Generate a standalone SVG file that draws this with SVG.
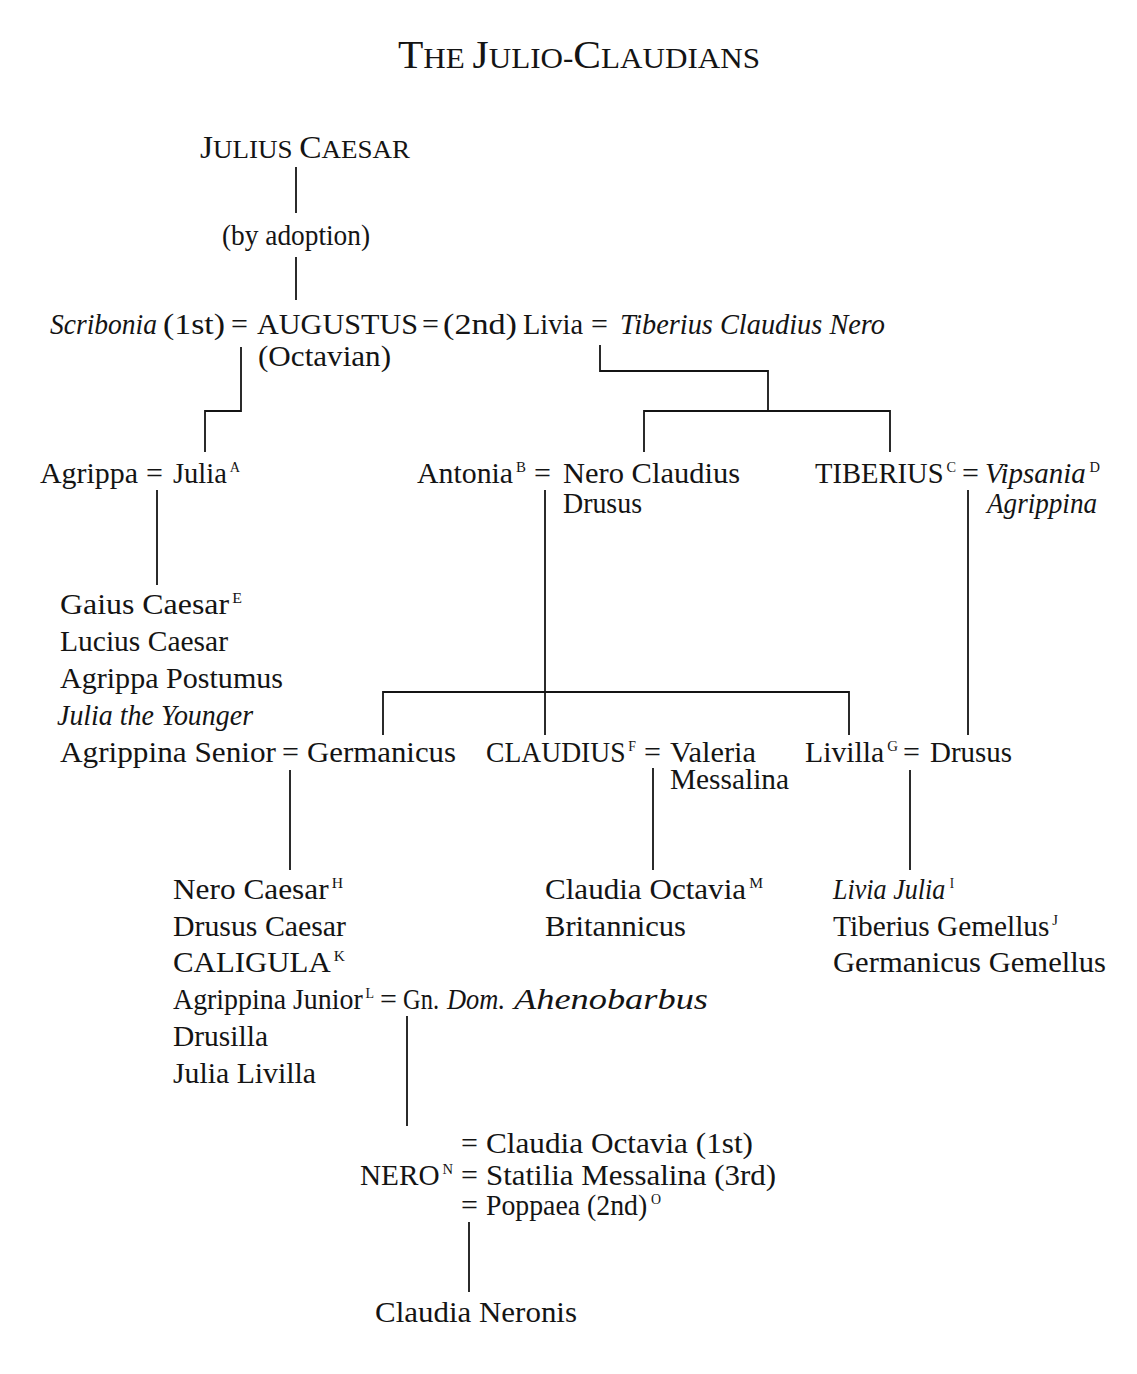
<svg xmlns="http://www.w3.org/2000/svg" width="1137" height="1374" viewBox="0 0 1137 1374">
<style>
text { font-family: "Liberation Serif", "Times New Roman", serif; font-size: 30px; fill: #141414; }
.i { font-style: italic; }
.sup { font-size: 15px; }
.big { font-size: 40px; }
.sc { font-size: 30px; }
.c { stroke: #141414; stroke-width: 1.8; fill: none; }
</style>
<rect width="1137" height="1374" fill="#ffffff"/>
<g id="title">
<text x="398" y="68" textLength="362" lengthAdjust="spacingAndGlyphs"><tspan class="big">T</tspan><tspan class="sc">HE </tspan><tspan class="big">J</tspan><tspan class="sc">ULIO-</tspan><tspan class="big">C</tspan><tspan class="sc">LAUDIANS</tspan></text>
</g>
<g id="connectors">
<path class="c" d="M296,167 V213"/>
<path class="c" d="M296,257 V300"/>
<path class="c" d="M241,347 V411 H205 V452"/>
<path class="c" d="M600,345 V371 H768 V411"/>
<path class="c" d="M644,452 V411 H890 V452"/>
<path class="c" d="M157,490 V585"/>
<path class="c" d="M545,490 V735"/>
<path class="c" d="M383,735 V692 H849 V735"/>
<path class="c" d="M968,490 V735"/>
<path class="c" d="M290,770 V870"/>
<path class="c" d="M653,768 V870"/>
<path class="c" d="M910,770 V870"/>
<path class="c" d="M407,1016 V1126"/>
<path class="c" d="M469,1222 V1292"/>
</g>
<g id="julius-caesar">
<text x="200" y="158" textLength="210" lengthAdjust="spacingAndGlyphs"><tspan font-size="31">J</tspan><tspan font-size="25">ULIUS </tspan><tspan font-size="31">C</tspan><tspan font-size="25">AESAR</tspan></text>
</g>
<g id="adoption">
<text x="222" y="245" textLength="148" lengthAdjust="spacingAndGlyphs">(by adoption)</text>
</g>
<g id="scribonia">
<text class="i" x="50" y="334" font-size="28" textLength="107" lengthAdjust="spacingAndGlyphs">Scribonia</text>
<text x="163" y="334" textLength="62" lengthAdjust="spacingAndGlyphs">(1st)</text>
<text x="231" y="334">=</text>
</g>
<g id="augustus">
<text x="257" y="334" textLength="161" lengthAdjust="spacingAndGlyphs">AUGUSTUS</text>
<text x="258" y="366" textLength="133" lengthAdjust="spacingAndGlyphs">(Octavian)</text>
</g>
<g id="livia">
<text x="422" y="334">=</text>
<text x="443" y="334" textLength="74" lengthAdjust="spacingAndGlyphs">(2nd)</text>
<text x="523" y="334" textLength="60" lengthAdjust="spacingAndGlyphs">Livia</text>
<text x="591" y="334">=</text>
</g>
<g id="tiberius-claudius-nero">
<text class="i" x="620" y="334" textLength="265" lengthAdjust="spacingAndGlyphs">Tiberius Claudius Nero</text>
</g>
<g id="agrippa">
<text x="40" y="483" textLength="98" lengthAdjust="spacingAndGlyphs">Agrippa</text>
<text x="146" y="483">=</text>
</g>
<g id="julia">
<text x="173" y="483" textLength="67" lengthAdjust="spacingAndGlyphs">Julia<tspan class="sup" dx="3" dy="-11">A</tspan></text>
</g>
<g id="antonia">
<text x="417" y="483" textLength="109" lengthAdjust="spacingAndGlyphs">Antonia<tspan class="sup" dx="3" dy="-11">B</tspan></text>
<text x="534" y="483">=</text>
</g>
<g id="nero-claudius-drusus">
<text x="563" y="483" textLength="177" lengthAdjust="spacingAndGlyphs">Nero Claudius</text>
<text x="563" y="513" textLength="79" lengthAdjust="spacingAndGlyphs">Drusus</text>
</g>
<g id="tiberius">
<text x="815" y="483" font-size="28" textLength="141" lengthAdjust="spacingAndGlyphs">TIBERIUS<tspan class="sup" dx="3" dy="-11">C</tspan></text>
<text x="962" y="483">=</text>
</g>
<g id="vipsania-agrippina">
<text class="i" x="985" y="483" textLength="115" lengthAdjust="spacingAndGlyphs">Vipsania<tspan class="sup" font-style="normal" dx="4" dy="-11">D</tspan></text>
<text class="i" x="987" y="513" textLength="110" lengthAdjust="spacingAndGlyphs">Agrippina</text>
</g>
<g id="gaius-caesar">
<text x="60" y="614" textLength="182" lengthAdjust="spacingAndGlyphs">Gaius Caesar<tspan class="sup" dx="3" dy="-11">E</tspan></text>
</g>
<g id="lucius-caesar">
<text x="60" y="651" textLength="168" lengthAdjust="spacingAndGlyphs">Lucius Caesar</text>
</g>
<g id="agrippa-postumus">
<text x="60" y="688" textLength="223" lengthAdjust="spacingAndGlyphs">Agrippa Postumus</text>
</g>
<g id="julia-the-younger">
<text class="i" x="57" y="725" textLength="196" lengthAdjust="spacingAndGlyphs">Julia the Younger</text>
</g>
<g id="agrippina-senior">
<text x="60" y="762" textLength="216" lengthAdjust="spacingAndGlyphs">Agrippina Senior</text>
<text x="282" y="762">=</text>
</g>
<g id="germanicus">
<text x="307" y="762" textLength="149" lengthAdjust="spacingAndGlyphs">Germanicus</text>
</g>
<g id="claudius">
<text x="486" y="762" font-size="27" textLength="150" lengthAdjust="spacingAndGlyphs">CLAUDIUS<tspan class="sup" dx="3" dy="-11">F</tspan></text>
<text x="644" y="762">=</text>
</g>
<g id="valeria-messalina">
<text x="670" y="762" textLength="86" lengthAdjust="spacingAndGlyphs">Valeria</text>
<text x="670" y="789" textLength="119" lengthAdjust="spacingAndGlyphs">Messalina</text>
</g>
<g id="livilla">
<text x="805" y="762" textLength="93" lengthAdjust="spacingAndGlyphs">Livilla<tspan class="sup" dx="3" dy="-11">G</tspan></text>
<text x="903" y="762">=</text>
</g>
<g id="drusus">
<text x="930" y="762" textLength="82" lengthAdjust="spacingAndGlyphs">Drusus</text>
</g>
<g id="nero-caesar">
<text x="173" y="899" textLength="170" lengthAdjust="spacingAndGlyphs">Nero Caesar<tspan class="sup" dx="3" dy="-11">H</tspan></text>
</g>
<g id="drusus-caesar">
<text x="173" y="936" textLength="173" lengthAdjust="spacingAndGlyphs">Drusus Caesar</text>
</g>
<g id="caligula">
<text x="173" y="972" textLength="172" lengthAdjust="spacingAndGlyphs">CALIGULA<tspan class="sup" dx="3" dy="-11">K</tspan></text>
</g>
<g id="agrippina-junior">
<text x="173" y="1009" font-size="29" textLength="201" lengthAdjust="spacingAndGlyphs">Agrippina Junior<tspan class="sup" dx="3" dy="-11">L</tspan></text>
<text x="380" y="1009">=</text>
</g>
<g id="ahenobarbus">
<text x="403" y="1009" textLength="36" lengthAdjust="spacingAndGlyphs">Gn.</text>
<text class="i" x="447" y="1009" textLength="58" lengthAdjust="spacingAndGlyphs">Dom.</text>
<text class="i" x="514" y="1009" font-size="32" textLength="194" lengthAdjust="spacingAndGlyphs">Ahenobarbus</text>
</g>
<g id="drusilla">
<text x="173" y="1046" textLength="95" lengthAdjust="spacingAndGlyphs">Drusilla</text>
</g>
<g id="julia-livilla">
<text x="173" y="1083" textLength="143" lengthAdjust="spacingAndGlyphs">Julia Livilla</text>
</g>
<g id="claudia-octavia">
<text x="545" y="899" textLength="218" lengthAdjust="spacingAndGlyphs">Claudia Octavia<tspan class="sup" dx="3" dy="-11">M</tspan></text>
</g>
<g id="britannicus">
<text x="545" y="936" textLength="141" lengthAdjust="spacingAndGlyphs">Britannicus</text>
</g>
<g id="livia-julia">
<text class="i" x="833" y="899" textLength="121" lengthAdjust="spacingAndGlyphs">Livia Julia<tspan class="sup" font-style="normal" dx="5" dy="-11">I</tspan></text>
</g>
<g id="tiberius-gemellus">
<text x="833" y="936" textLength="225" lengthAdjust="spacingAndGlyphs">Tiberius Gemellus<tspan class="sup" dx="3" dy="-11">J</tspan></text>
</g>
<g id="germanicus-gemellus">
<text x="833" y="972" textLength="273" lengthAdjust="spacingAndGlyphs">Germanicus Gemellus</text>
</g>
<g id="nero">
<text x="360" y="1185" textLength="93" lengthAdjust="spacingAndGlyphs">NERO<tspan class="sup" dx="3" dy="-11">N</tspan></text>
</g>
<g id="nero-wives">
<text x="461" y="1153">=</text>
<text x="486" y="1153" textLength="267" lengthAdjust="spacingAndGlyphs">Claudia Octavia (1st)</text>
<text x="461" y="1185">=</text>
<text x="486" y="1185" textLength="290" lengthAdjust="spacingAndGlyphs">Statilia Messalina (3rd)</text>
<text x="461" y="1215">=</text>
<text x="486" y="1215" textLength="175" lengthAdjust="spacingAndGlyphs">Poppaea (2nd)<tspan class="sup" dx="4" dy="-11">O</tspan></text>
</g>
<g id="claudia-neronis">
<text x="375" y="1322" textLength="202" lengthAdjust="spacingAndGlyphs">Claudia Neronis</text>
</g>
</svg>
